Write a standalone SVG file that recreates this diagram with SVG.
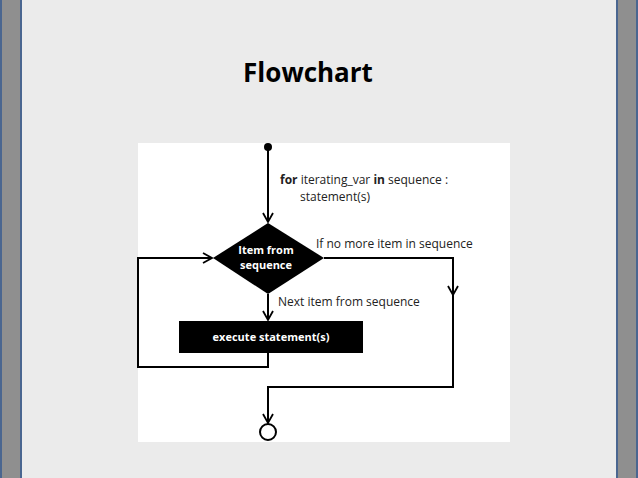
<svg xmlns="http://www.w3.org/2000/svg" width="638" height="478" viewBox="0 0 638 478">
<defs>
<marker id="ah" markerWidth="12" markerHeight="12" refX="10" refY="6" orient="auto" markerUnits="userSpaceOnUse"><path d="M1,1 L10,6 L1,11" fill="none" stroke="#000" stroke-width="1.8"/></marker>
<style>
.ln{fill:none;stroke:#000;stroke-width:2}
.t{font-family:"Open Sans","Liberation Sans",sans-serif;font-size:12px;fill:#222}
.w{font-family:"Open Sans","Liberation Sans",sans-serif;font-size:11px;font-weight:bold;fill:#fff}
</style>
</defs>
<rect width="638" height="478" fill="#ebebeb"/>
<rect x="1" y="-2" width="20" height="482" fill="#8f8f8f" stroke="#4a6690" stroke-width="2"/>
<rect x="617" y="-2" width="20" height="482" fill="#8f8f8f" stroke="#4a6690" stroke-width="2"/>
<text x="308" y="82" text-anchor="middle" font-family="'Open Sans','Liberation Sans',sans-serif" font-weight="bold" font-size="26" fill="#000">Flowchart</text>
<rect x="138" y="143" width="372" height="299" fill="#fff"/>
<g id="connectors">
<path class="ln" d="M268,147 V222" marker-end="url(#ah)"/>
<path class="ln" d="M268,294 V320" marker-end="url(#ah)"/>
<path class="ln" d="M268,353 V367 H138 V258 H212" marker-end="url(#ah)"/>
<path class="ln" d="M324,258 H453 V300"/>
<path class="ln" d="M453,290 V295" marker-end="url(#ah)"/>
<path class="ln" d="M453,300 V387 H268 V423" marker-end="url(#ah)"/>
</g>
<g id="start"><circle cx="268" cy="147" r="4" fill="#000"/></g>
<g id="label1"><text class="t" x="280" y="184"><tspan font-weight="bold">for</tspan> iterating_var <tspan font-weight="bold">in</tspan> sequence :</text><text class="t" x="300" y="201">statement(s)</text></g>
<g id="decision"><polygon points="268,223 324,258 268,294 213,258" fill="#000"/><text class="w" x="266" y="254" text-anchor="middle">Item from</text><text class="w" x="266" y="269" text-anchor="middle">sequence</text></g>
<g id="label2"><text class="t" x="316" y="248">If no more item in sequence</text></g>
<g id="label3"><text class="t" x="278" y="306">Next item from  sequence</text></g>
<g id="execute"><rect x="179" y="321" width="184" height="32" fill="#000"/><text class="w" x="271" y="341" text-anchor="middle">execute statement(s)</text></g>
<g id="end"><circle cx="268" cy="432" r="8" fill="#fff" stroke="#000" stroke-width="2"/></g>
</svg>
